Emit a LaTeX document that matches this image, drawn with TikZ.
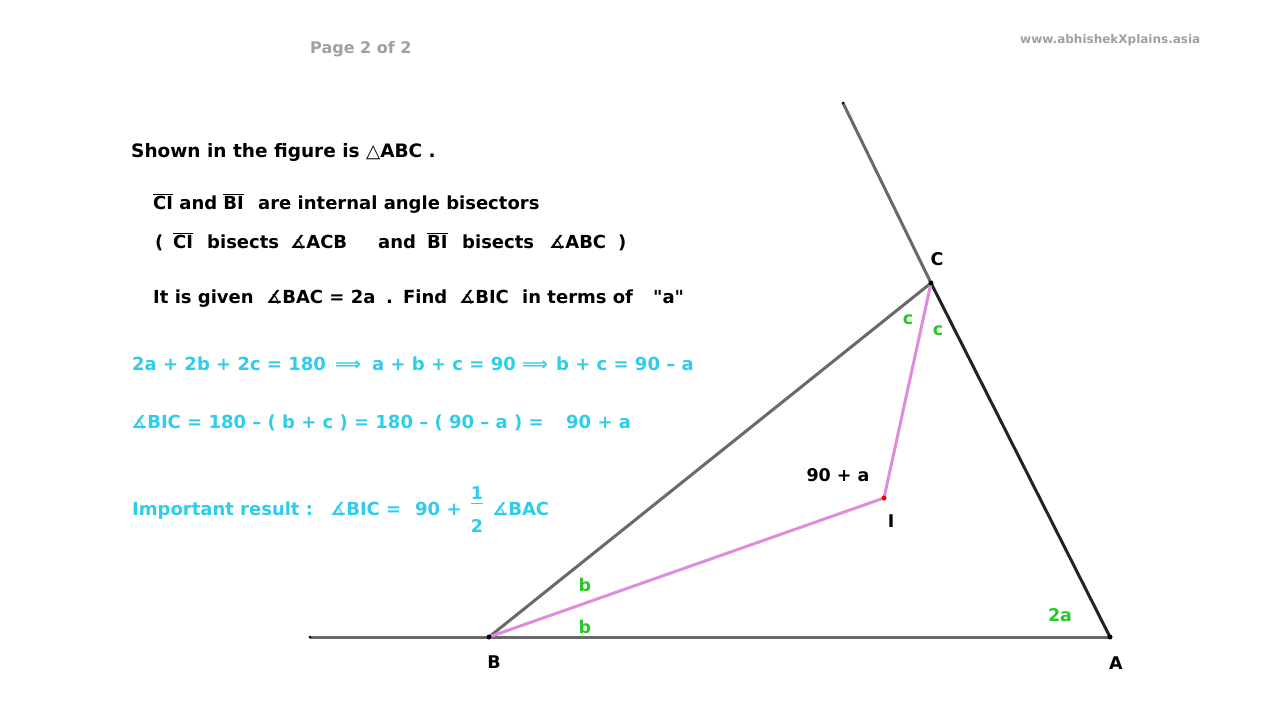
\documentclass[tikz,border=0pt]{standalone}
\usepackage{fontspec}
\setmainfont{DejaVu Sans}
\newfontfamily\djv{DejaVu Sans}
\definecolor{cy}{RGB}{45,205,235}
\definecolor{gr}{RGB}{40,200,40}
\definecolor{pk}{RGB}{222,140,222}
\definecolor{ln}{RGB}{105,105,105}
\definecolor{dk}{RGB}{35,35,35}
\definecolor{hd}{RGB}{160,160,160}
\newcommand{\ang}{{\djv\bfseries ∡}}
\newcommand{\impl}{{\djv\bfseries ⟹}}
\newcommand{\qa}{{\djv\bfseries "a"}}
\begin{document}
\begin{tikzpicture}[x=1pt,y=-1pt,
  txt/.style={anchor=base west,inner sep=0pt,font=\bfseries\fontsize{18}{22}\selectfont},
  ctxt/.style={txt,text=cy,font=\bfseries\fontsize{18}{22}\selectfont},
  lbl/.style={anchor=center,inner sep=0pt,font=\bfseries\fontsize{17.5}{20}\selectfont},
  glbl/.style={lbl,text=gr},
  gline/.style={ln,line width=3pt},
  dline/.style={dk,line width=3pt},
  pline/.style={pk,line width=3pt,line join=round},
  dot/.style={circle,fill=black,inner sep=0pt,minimum size=5pt}]
\useasboundingbox (0,0) rectangle (1280,720);
\fill[white] (0,0) rectangle (1280,720);
% header
\node[anchor=base west,inner sep=0pt,text=hd,font=\bfseries\fontsize{16}{18}\selectfont] (pg) at (310,53) {Page 2 of 2};
\node[anchor=base west,inner sep=0pt,text=hd,font=\bfseries\fontsize{12}{14}\selectfont] (www) at (1020,43) {www.abhishekXplains.asia};
% statement
\node[txt,font=\bfseries\fontsize{18.5}{22}\selectfont] (l1) at (131,157) {Shown in the figure is △ABC .};
\node[txt] (l2a) at (153,209) {$\overline{\mathbf{CI}}$ and $\overline{\mathbf{BI}}$};
\node[txt] (l2b) at (258,209) {are internal angle bisectors};
\node[txt] (l3a) at (155,248) {(};
\node[txt] (l3b) at (173,248) {$\overline{\mathbf{CI}}$};
\node[txt] (l3c) at (207,248) {bisects};
\node[txt] (l3d) at (290,248) {\ang ACB};
\node[txt] (l3e) at (378,248) {and};
\node[txt] (l3f) at (427,248) {$\overline{\mathbf{BI}}$};
\node[txt] (l3g) at (462,248) {bisects};
\node[txt] (l3h) at (549,248) {\ang ABC};
\node[txt] (l3i) at (618,248) {)};
\node[txt] (l4a) at (153,303) {It is given};
\node[txt] (l4b) at (266,303) {\ang BAC = 2a};
\node[txt] (l4c) at (386,303) {.};
\node[txt] (l4d) at (403,303) {Find};
\node[txt] (l4e) at (459,303) {\ang BIC};
\node[txt] (l4f) at (522,303) {in terms of};
\node[txt] (l4g) at (653,303) {\qa};
% solution
\node[ctxt] (s1a) at (132,370) {2a + 2b + 2c = 180};
\node[ctxt] (s1b) at (335,370) {\impl};
\node[ctxt] (s1c) at (372,370) {a + b + c = 90};
\node[ctxt] (s1d) at (522,370) {\impl};
\node[ctxt] (s1e) at (556,370) {b + c = 90 – a};
\node[ctxt] (s2a) at (131,428) {\ang BIC = 180 – ( b + c ) = 180 – ( 90 – a ) =};
\node[ctxt] (s2b) at (566,428) {90 + a};
\node[ctxt] (s3a) at (132,515) {Important result :};
\node[ctxt] (s3b) at (330,515) {\ang BIC =};
\node[ctxt] (s3c) at (415,515) {90 +};
\node[lbl,text=cy] (n1) at (477,493) {1};
\node[lbl,text=cy] (n2) at (477,526) {2};
\draw[cy,line width=1.2pt] (n1.south west) ++(0,4) coordinate (fb1) -- (n1.south east |- fb1);
\node[ctxt] (s3d) at (492,515) {\ang BAC};
% geometry
\coordinate (L) at (310,637);
\coordinate (T) at (843,103);
\coordinate (B) at (489,637);
\coordinate (A) at (1110,637);
\coordinate (C) at (931,283);
\coordinate (I) at (884,498);
\draw[gline] (L) -- (A);
\draw[gline] (B) -- (C);
\draw[gline] (C) -- (T);
\draw[dline] (A) -- (C);
\draw[pline] (B) -- (I) -- (C);
\node[dot] at (B) {};
\node[dot] at (A) {};
\node[dot] at (C) {};
\node[circle,fill=red,inner sep=0pt,minimum size=5pt] at (I) {};
\fill (T) circle (1.5pt);
\fill (L) circle (1.5pt);
% labels
\node[lbl] (lC) at (937,259) {C};
\node[lbl] (lI) at (891,521) {I};
\node[lbl] (lB) at (494,662) {B};
\node[lbl] (lA) at (1116,663) {A};
\node[lbl] (lang) at (838,475) {90 + a};
\node[glbl] (c1) at (908,320) {c};
\node[glbl] (c2) at (938,331) {c};
\node[glbl] (b1) at (585,585) {b};
\node[glbl] (b2) at (585,627) {b};
\node[glbl] (a2) at (1060,615) {2a};
\end{tikzpicture}
\end{document}
